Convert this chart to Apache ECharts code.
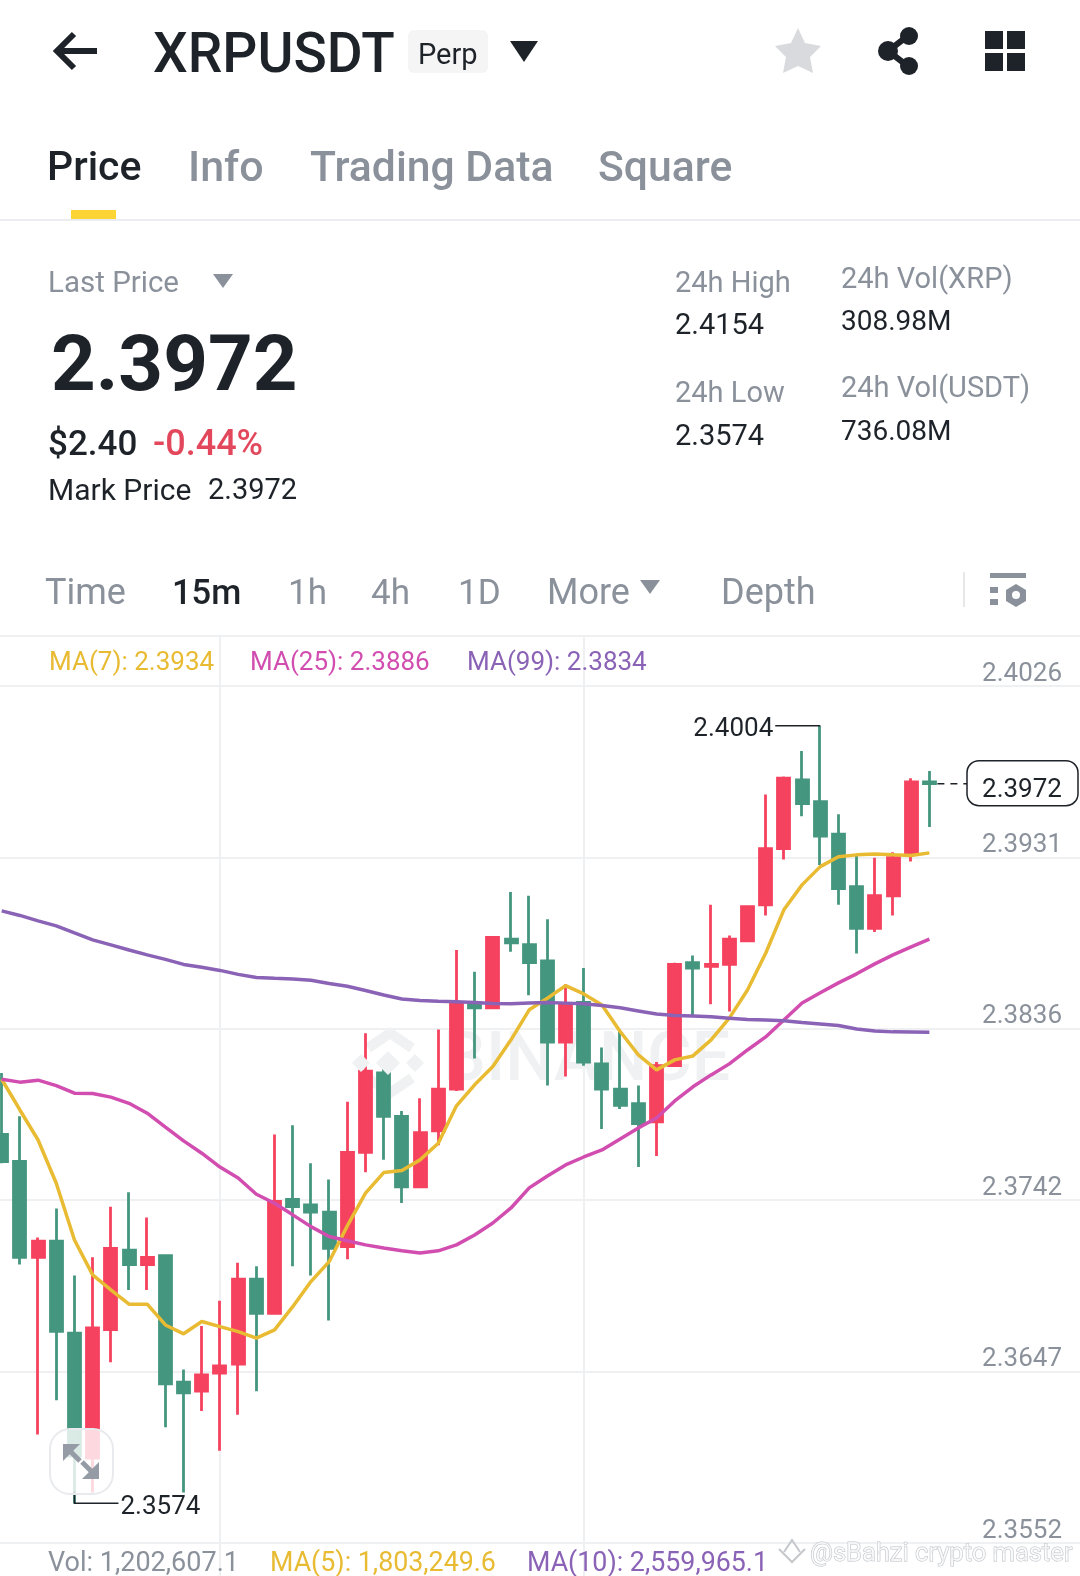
<!DOCTYPE html>
<html lang="en">
<head>
<meta charset="UTF-8">
<title>XRPUSDT Perp</title>
<script src="https://cdn.jsdelivr.net/npm/echarts@6/dist/echarts.min.js"></script>
<style>
  html, body { margin: 0; padding: 0; background: #fff; }
  #main { width: 1080px; height: 1576px; }
</style>
</head>
<body>
<div id="main"></div>
<script type="text/javascript">
// 15m candles
var opens = [
  2.3778, 2.3763, 2.3710, 2.3719, 2.3668, 2.3599, 2.3670, 2.3714, 2.3706, 2.3711,
  2.3641, 2.3636, 2.3646, 2.3651, 2.3698, 2.3679, 2.3742, 2.3739, 2.3735, 2.3716,
  2.3768, 2.3812, 2.3788, 2.3749, 2.3780, 2.3803, 2.3850, 2.3848, 2.3886, 2.3883,
  2.3874, 2.3829, 2.3851, 2.3817, 2.3803, 2.3795, 2.3785, 2.3816, 2.3873, 2.3871,
  2.3872, 2.3885, 2.3905, 2.3936, 2.3974, 2.3962, 2.3944, 2.3915, 2.3892, 2.3910,
  2.3933, 2.3973
];
var closes = [
  2.3763, 2.3710, 2.3719, 2.3669, 2.3600, 2.3671, 2.3715, 2.3706, 2.3710, 2.3640,
  2.3635, 2.3645, 2.3650, 2.3698, 2.3679, 2.3741, 2.3738, 2.3735, 2.3715, 2.3768,
  2.3813, 2.3788, 2.3749, 2.3779, 2.3803, 2.3851, 2.3848, 2.3887, 2.3884, 2.3873,
  2.3829, 2.3850, 2.3818, 2.3803, 2.3794, 2.3784, 2.3816, 2.3872, 2.3870, 2.3872,
  2.3886, 2.3904, 2.3936, 2.3975, 2.3961, 2.3943, 2.3914, 2.3892, 2.3910, 2.3931,
  2.3973, 2.3972
];
var lows = [
  2.3762, 2.3706, 2.3612, 2.3631, 2.3574, 2.3580, 2.3652, 2.3692, 2.3692, 2.3616,
  2.3580, 2.3625, 2.3603, 2.3623, 2.3636, 2.3679, 2.3705, 2.3700, 2.3675, 2.3709,
  2.3757, 2.3764, 2.3740, 2.3749, 2.3772, 2.3802, 2.3820, 2.3848, 2.3879, 2.3855,
  2.3805, 2.3810, 2.3816, 2.3781, 2.3792, 2.3760, 2.3766, 2.3816, 2.3844, 2.3850,
  2.3846, 2.3885, 2.3899, 2.3930, 2.3954, 2.3927, 2.3905, 2.3878, 2.3890, 2.3899,
  2.3929, 2.3948
];
var highs = [
  2.3812, 2.3788, 2.3721, 2.3737, 2.3700, 2.3710, 2.3738, 2.3746, 2.3732, 2.3711,
  2.3648, 2.3672, 2.3686, 2.3707, 2.3705, 2.3778, 2.3783, 2.3762, 2.3753, 2.3796,
  2.3834, 2.3817, 2.3791, 2.3798, 2.3836, 2.3880, 2.3868, 2.3887, 2.3912, 2.3910,
  2.3897, 2.3861, 2.3870, 2.3826, 2.3835, 2.3805, 2.3818, 2.3873, 2.3877, 2.3905,
  2.3888, 2.3904, 2.3966, 2.3976, 2.3990, 2.4004, 2.3955, 2.3932, 2.3931, 2.3934,
  2.3975, 2.3979
];
var ma7 = [
  2.38085, 2.37915, 2.37749, 2.37510, 2.37196, 2.37003, 2.36920, 2.36841, 2.36841, 2.36726,
  2.36677, 2.36745, 2.36717, 2.36689, 2.36653, 2.36699, 2.36827, 2.36966, 2.37076, 2.37274,
  2.37455, 2.37569, 2.37580, 2.37639, 2.37731, 2.37938, 2.38054, 2.38155, 2.38303, 2.38469,
  2.38533, 2.38603, 2.38557, 2.38496, 2.38349, 2.38220, 2.38137, 2.38192, 2.38214, 2.38303,
  2.38423, 2.38579, 2.38782, 2.39022, 2.39160, 2.39261, 2.39316, 2.39326, 2.39331, 2.39326,
  2.39322, 2.39337
];
var ma25 = [
  2.38085, 2.38069, 2.38080, 2.38050, 2.38008, 2.38006, 2.37986, 2.37952, 2.37897, 2.37820,
  2.37744, 2.37676, 2.37599, 2.37539, 2.37449, 2.37399, 2.37335, 2.37270, 2.37215, 2.37192,
  2.37169, 2.37152, 2.37136, 2.37124, 2.37136, 2.37169, 2.37224, 2.37290, 2.37373, 2.37484,
  2.37550, 2.37611, 2.37655, 2.37694, 2.37755, 2.37816, 2.37871, 2.37965, 2.38043, 2.38109,
  2.38170, 2.38247, 2.38319, 2.38413, 2.38507, 2.38563, 2.38618, 2.38668, 2.38723, 2.38773,
  2.38817, 2.38860
];
var ma99 = [
  2.39016, 2.38991, 2.38961, 2.38933, 2.38894, 2.38856, 2.38828, 2.38800, 2.38773, 2.38748,
  2.38720, 2.38704, 2.38687, 2.38665, 2.38648, 2.38643, 2.38640, 2.38632, 2.38615, 2.38599,
  2.38576, 2.38551, 2.38529, 2.38521, 2.38516, 2.38513, 2.38510, 2.38504, 2.38502, 2.38507,
  2.38510, 2.38506, 2.38502, 2.38493, 2.38480, 2.38463, 2.38446, 2.38438, 2.38435, 2.38430,
  2.38423, 2.38416, 2.38413, 2.38409, 2.38399, 2.38391, 2.38382, 2.38363, 2.38352, 2.38347,
  2.38346, 2.38345
];
var axisMin = 2.3552;
var axisMax = 2.4026;
var axisStep = 0.00948;
var highMark = [45, 2.4004];
var lowMark = [4, 2.3574];
var lastMark = [51, 2.3972];

// 52 candles plus empty room on the right
var categories = [];
for (var c = 0; c < 60; c++) categories.push(String(c));
var candles = opens.map(function (o, i) { return [o, closes[i], lows[i], highs[i]]; });

var RED = '#f5425f', GREEN = '#45967f', DARK = '#1e2329', GREY = '#8a919b';
var MA_Y = '#e8bb33', MA_P = '#d24db0', MA_V = '#8a62b6', LINE = '#eef0f2';
var FONT = 'Roboto';

// y is where the text reads centred, the 3px makes up for Roboto sitting high
function txt(x, y, s, size, color, weight, z) {
  return { type: 'text', x: x, y: y + 3, z: z || 5, style: {
    text: s, fill: color, font: (weight || 400) + ' ' + size + 'px ' + FONT, verticalAlign: 'middle', align: 'left'
  } };
}
function poly(pts, color) {
  return { type: 'polygon', z: 5, shape: { points: pts }, style: { fill: color } };
}
function rect(x, y, w, h, color, r, z) {
  return { type: 'rect', z: z || 5, shape: { x: x, y: y, width: w, height: h, r: r || 0 }, style: { fill: color } };
}
function stroke(pts, color, w, z) {
  return { type: 'polyline', z: z || 5, shape: { points: pts }, style: { stroke: color, lineWidth: w, fill: null, lineJoin: 'miter' } };
}
function dot(x, y, r, color, z) {
  return { type: 'circle', z: z || 5, shape: { cx: x, cy: y, r: r }, style: { fill: color } };
}

var page = [
  // header
  stroke([[97, 51], [58, 51]], DARK, 6),
  stroke([[74, 34], [57, 51], [74, 68]], DARK, 6),
  txt(153, 55, 'XRPUSDT', 55, DARK, 500),
  rect(408, 30, 80, 43, '#f5f5f5', 6),
  txt(418, 54, 'Perp', 29, DARK),
  poly([[510, 41], [538, 41], [524, 62]], DARK),
  poly([[798, 28], [805, 43], [821, 46], [810, 57], [813, 73], [798, 66], [783, 73], [786, 57], [775, 46], [791, 43]], '#d8dadd'),
  stroke([[909, 35], [888, 51], [909, 67]], DARK, 6),
  dot(909, 36, 9, DARK), dot(909, 66, 9, DARK), dot(888, 51, 10, DARK),
  rect(985, 31, 18, 18, DARK), rect(1007, 31, 18, 18, DARK),
  rect(985, 53, 18, 18, DARK), rect(1007, 53, 18, 18, DARK),
  // tabs
  txt(47, 167, 'Price', 41, DARK, 500),
  txt(188, 167, 'Info', 43, GREY, 500),
  txt(310, 167, 'Trading Data', 42.7, GREY, 500),
  txt(598, 167, 'Square', 42.7, GREY, 500),
  rect(71, 210, 45, 9, '#fcd535'),
  rect(0, 219, 1080, 2, '#eaecef'),
  // price block
  txt(48, 282, 'Last Price', 29.5, GREY),
  poly([[213, 274], [233, 274], [223, 288]], GREY),
  txt(51, 367, '2.3972', 78, DARK, 700),
  txt(48, 443, '$2.40', 35, DARK, 500),
  txt(153, 443, '-0.44%', 36, '#e2475c', 500),
  txt(48, 489, 'Mark Price', 30, DARK),
  txt(208, 489, '2.3972', 29, DARK),
  txt(675, 282, '24h High', 29, GREY),
  txt(675, 324, '2.4154', 29, DARK),
  txt(675, 392, '24h Low', 29, GREY),
  txt(675, 435, '2.3574', 29, DARK),
  txt(841, 278, '24h Vol(XRP)', 29, GREY),
  txt(841, 320, '308.98M', 28, DARK),
  txt(841, 387, '24h Vol(USDT)', 29, GREY),
  txt(841, 430, '736.08M', 28, DARK),
  // interval row
  txt(45, 592, 'Time', 36, GREY),
  txt(172, 592, '15m', 34.5, DARK, 500),
  txt(288, 592, '1h', 35, GREY),
  txt(371, 592, '4h', 35, GREY),
  txt(458, 592, '1D', 35, GREY),
  txt(547, 592, 'More', 36, GREY),
  poly([[640, 580], [660, 580], [650, 594]], GREY),
  txt(721, 592, 'Depth', 36, GREY),
  rect(963, 572, 2, 35, '#e6e8ea'),
  rect(990, 573, 36, 5, GREY),
  rect(990, 587, 8, 6, GREY), rect(990, 599, 8, 6, GREY),
  poly([[1016, 584], [1026, 590], [1026, 601], [1016, 607], [1006, 601], [1006, 590]], GREY),
  dot(1016, 595, 4, '#fff'),
  rect(0, 635, 1080, 2, '#eff0f2'),
  // legend rows
  txt(49, 660, 'MA(7): 2.3934', 26, MA_Y),
  txt(250, 660, 'MA(25): 2.3886', 26, MA_P),
  txt(467, 660, 'MA(99): 2.3834', 26, MA_V),
  txt(48, 1561, 'Vol: 1,202,607.1', 27, GREY),
  txt(270, 1561, 'MA(5): 1,803,249.6', 26.8, MA_Y),
  txt(527, 1561, 'MA(10): 2,559,965.1', 26.8, MA_V),
  // author stamp
  { type: 'text', x: 810, y: 1555, z: 6, style: { text: '@sBahzi crypto master', font: '400 25.5px ' + FONT, fill: 'rgba(255,255,255,0.7)', stroke: '#bfc3c8', lineWidth: 1, verticalAlign: 'middle' } },
  stroke([[779, 1549], [792, 1562], [805, 1549]], '#c4c8cc', 2, 6),
  stroke([[784, 1552], [792, 1540], [800, 1552]], '#c4c8cc', 2, 6),
  // exchange watermark under the candles
  txt(443, 1060, 'BINANCE', 68, '#f0f1f2', 500, 1),
  stroke([[368, 1048], [390, 1033], [412, 1048]], '#f0f1f2', 10, 1),
  stroke([[368, 1078], [390, 1093], [412, 1078]], '#f0f1f2', 10, 1),
  poly([[388, 1051], [400, 1063], [388, 1075], [376, 1063]], '#f0f1f2'),
  poly([[415, 1054], [424, 1063], [415, 1072], [406, 1063]], '#f0f1f2'),
  poly([[361, 1054], [370, 1063], [361, 1072], [352, 1063]], '#f0f1f2'),
  // expand button
  { type: 'rect', z: 20, shape: { x: 50, y: 1429, width: 63, height: 65, r: 20 }, style: { fill: 'rgba(255,255,255,0.8)', stroke: '#e8eaed', lineWidth: 2 } },
  { type: 'polygon', z: 21, shape: { points: [[63, 1444], [80, 1444], [63, 1461]] }, style: { fill: '#969ca5' } },
  { type: 'polygon', z: 21, shape: { points: [[99, 1462], [99, 1479], [82, 1479]] }, style: { fill: '#969ca5' } },
  { type: 'polyline', z: 21, shape: { points: [[68, 1449], [80, 1461]] }, style: { stroke: '#969ca5', lineWidth: 5, fill: null } },
  { type: 'polyline', z: 21, shape: { points: [[82, 1462], [94, 1474]] }, style: { stroke: '#969ca5', lineWidth: 5, fill: null } }
];

function markerItem(params, api) {
  var p = api.coord([api.value(0), api.value(1)]);
  var kind = params.dataIndex;
  var kids = [];
  var label = api.value(1).toFixed(4);
  var font = '400 26px ' + FONT;
  if (kind === 0) { // session high, leader to the left
    kids.push({ type: 'polyline', shape: { points: [[p[0], p[1]], [p[0] - 45, p[1]]] }, style: { stroke: DARK, lineWidth: 1.5, fill: null } });
    kids.push({ type: 'text', style: { x: p[0] - 47, y: p[1] + 4, text: label, font: font, fill: DARK, align: 'right', verticalAlign: 'middle' } });
  } else if (kind === 1) { // session low, leader to the right
    kids.push({ type: 'polyline', shape: { points: [[p[0], p[1] - 12], [p[0], p[1]], [p[0] + 44, p[1]]] }, style: { stroke: DARK, lineWidth: 1.5, fill: null } });
    kids.push({ type: 'text', style: { x: p[0] + 46, y: p[1] + 4, text: label, font: font, fill: DARK, align: 'left', verticalAlign: 'middle' } });
  } else { // last price tag
    kids.push({ type: 'line', shape: { x1: p[0] + 8, y1: p[1], x2: 967, y2: p[1] }, style: { stroke: DARK, lineWidth: 1.5, lineDash: [7, 6] } });
    kids.push({ type: 'rect', shape: { x: 967, y: p[1] - 23, width: 111, height: 45, r: 12 }, style: { fill: '#fff', stroke: DARK, lineWidth: 1.5 } });
    kids.push({ type: 'text', style: { x: 1022, y: p[1] + 7, text: label, font: font, fill: DARK, align: 'center', verticalAlign: 'middle' } });
  }
  return { type: 'group', children: kids };
}

var chart = echarts.init(document.getElementById('main'));
chart.setOption({
  animation: false,
  backgroundColor: '#fff',
  textStyle: { fontFamily: FONT },
  graphic: { elements: page },
  grid: [
    { left: -7.4, width: 1091.4, top: 686, bottom: 33, outerBoundsMode: 'none' },
    { left: 1.7, width: 1073.2, top: 636, bottom: 0, outerBoundsMode: 'none' }
  ],
  xAxis: [
    { type: 'category', data: categories, gridIndex: 0, show: false },
    {
      type: 'category', data: categories, gridIndex: 1, boundaryGap: false,
      axisLine: { show: false }, axisTick: { show: false }, axisLabel: { show: false },
      splitLine: { show: true, interval: function (i) { return i === 12 || i === 32; }, lineStyle: { color: LINE, width: 2 } }
    }
  ],
  yAxis: [
    {
      type: 'value', gridIndex: 0, position: 'right', min: axisMin, max: axisMax, interval: axisStep,
      axisLine: { show: false }, axisTick: { show: false },
      axisLabel: {
        inside: true, margin: 22, color: GREY, fontSize: 26, fontFamily: FONT, verticalAlign: 'bottom', lineHeight: 24,
        formatter: function (v) { return v.toFixed(4); }
      },
      splitLine: { show: true, lineStyle: { color: LINE, width: 2 } }
    },
    { type: 'value', gridIndex: 1, show: false, splitLine: { show: false } }
  ],
  series: [
    {
      type: 'candlestick', data: candles, xAxisIndex: 0, yAxisIndex: 0, barWidth: 12.5,
      itemStyle: { color: RED, color0: GREEN, borderColor: RED, borderColor0: GREEN, borderWidth: 2.8 }
    },
    { type: 'line', name: 'MA(7)', data: ma7, showSymbol: false, lineStyle: { color: MA_Y, width: 3.5 }, itemStyle: { color: MA_Y }, z: 3 },
    { type: 'line', name: 'MA(25)', data: ma25, showSymbol: false, lineStyle: { color: MA_P, width: 3.5 }, itemStyle: { color: MA_P }, z: 3 },
    { type: 'line', name: 'MA(99)', data: ma99, showSymbol: false, lineStyle: { color: MA_V, width: 3.5 }, itemStyle: { color: MA_V }, z: 3 },
    {
      type: 'custom', data: [highMark, lowMark, lastMark], renderItem: markerItem, clip: false, z: 4,
      encode: { x: 0, y: 1 }, silent: true
    }
  ]
});
</script>
</body>
</html>
